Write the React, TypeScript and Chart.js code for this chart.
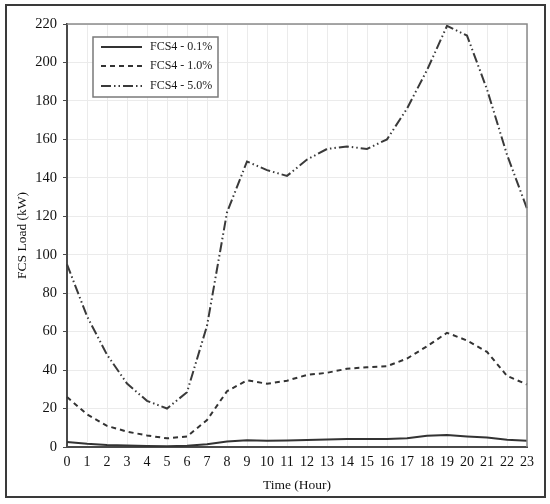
import React, { useEffect, useRef } from "react";
import { Chart, registerables } from "chart.js";

Chart.register(...registerables);

const hours = ["0","1","2","3","4","5","6","7","8","9","10","11","12","13","14","15","16","17","18","19","20","21","22","23"];
const seriesLabels = ["FCS4 - 0.1%", "FCS4 - 1.0%", "FCS4 - 5.0%"];
const load01 = [2.6, 1.7, 1.1, 0.8, 0.5, 0.4, 0.6, 1.4, 2.9, 3.5, 3.3, 3.4, 3.7, 3.9, 4.1, 4.1, 4.2, 4.6, 5.9, 6.2, 5.5, 5.0, 3.8, 3.2];
const load10 = [26, 17, 11, 8, 6, 4.5, 5.5, 14, 29, 34.7, 32.9, 34.5, 37.5, 38.6, 40.7, 41.5, 42, 46, 52.4, 59.4, 55.4, 49.5, 37, 32.5];
const load50 = [95, 68, 48, 33, 24, 20, 28.5, 63, 122, 148.5, 144, 141, 149.5, 155, 156.3, 155, 160, 176, 196, 219, 214, 186, 152, 124];
const yTicks = [0, 20, 40, 60, 80, 100, 120, 140, 160, 180, 200, 220];

const FONT = "'Liberation Serif', 'Times New Roman', serif";

const framePlugin = {
  id: "framePlugin",
  beforeDraw(chart: any) {
    const ctx = chart.ctx;
    ctx.save();
    ctx.fillStyle = "#ffffff";
    ctx.fillRect(0, 0, chart.width, chart.height);
    ctx.restore();
  },
  afterDraw(chart: any) {
    const ctx = chart.ctx;
    const a = chart.chartArea;
    ctx.save();
    // plot border top/right
    ctx.strokeStyle = "#8a8a8a";
    ctx.lineWidth = 1.5;
    ctx.beginPath();
    ctx.moveTo(a.left, a.top);
    ctx.lineTo(a.right, a.top);
    ctx.lineTo(a.right, a.bottom);
    ctx.stroke();
    // outer frame
    ctx.strokeStyle = "#3a3a3a";
    ctx.lineWidth = 2;
    ctx.strokeRect(6, 5, 539, 492);
    // legend
    const bx = 93, by = 37, bw = 125, bh = 60;
    ctx.fillStyle = "#ffffff";
    ctx.fillRect(bx, by, bw, bh);
    ctx.strokeStyle = "#7a7a7a";
    ctx.lineWidth = 1.5;
    ctx.strokeRect(bx, by, bw, bh);
    const rows = [47, 66, 86];
    chart.data.datasets.forEach((ds: any, i: number) => {
      const y = rows[i];
      ctx.strokeStyle = ds.borderColor;
      ctx.lineWidth = ds.borderWidth;
      ctx.setLineDash(ds.borderDash || []);
      ctx.beginPath();
      ctx.moveTo(101, y);
      ctx.lineTo(142, y);
      ctx.stroke();
      ctx.setLineDash([]);
      ctx.fillStyle = "#1a1a1a";
      ctx.font = `12px ${FONT}`;
      ctx.textBaseline = "middle";
      ctx.textAlign = "left";
      ctx.fillText(ds.label, 150, y);
    });
    ctx.restore();
  },
};

export default function App() {
  const ref = useRef<HTMLCanvasElement | null>(null);
  useEffect(() => {
    if (!ref.current) return;
    const chart = new Chart(ref.current, {
      type: "line",
      data: {
        labels: hours,
        datasets: [
          { label: seriesLabels[0], data: load01, borderColor: "#333333", borderWidth: 2, borderDash: [], pointRadius: 0, tension: 0, fill: false },
          { label: seriesLabels[1], data: load10, borderColor: "#333333", borderWidth: 2, borderDash: [5, 4], pointRadius: 0, tension: 0, fill: false },
          { label: seriesLabels[2], data: load50, borderColor: "#3a3a3a", borderWidth: 2, borderDash: [10, 3, 1.5, 3, 1.5, 3], pointRadius: 0, tension: 0, fill: false },
        ],
      },
      options: {
        animation: false,
        responsive: true,
        maintainAspectRatio: false,
        layout: { padding: { left: 0, top: 24, right: 23, bottom: 8 } },
        plugins: { legend: { display: false }, tooltip: { enabled: false } },
        scales: {
          x: {
            type: "category",
            offset: false,
            grid: { color: "#ebebeb", lineWidth: 1, tickLength: 0, offset: false },
            border: { color: "#4a4a4a", width: 2 },
            ticks: { color: "#111", font: { family: FONT, size: 14 }, padding: 7, maxRotation: 0, autoSkip: false },
            title: { display: true, text: "Time (Hour)", color: "#111", font: { family: FONT, size: 13.5 }, padding: { top: 0, bottom: 2 } },
            afterFit: (s: any) => { s.height = 49; },
          },
          y: {
            min: 0,
            max: 220,
            afterBuildTicks: (s: any) => { s.ticks = yTicks.map((v) => ({ value: v })); },
            grid: { color: "#ebebeb", lineWidth: 1, tickLength: 4, tickColor: "#4a4a4a" },
            border: { color: "#4a4a4a", width: 2 },
            ticks: { color: "#111", font: { family: FONT, size: 14.5 }, padding: 6 },
            title: { display: true, text: "FCS Load (kW)", color: "#111", font: { family: FONT, size: 13.5 }, padding: { top: 14, bottom: 0 } },
            afterFit: (s: any) => { s.width = 67; },
          },
        },
      },
      plugins: [framePlugin],
    });
    return () => chart.destroy();
  }, []);
  return (
    <div style={{ position: "fixed", left: 0, top: 0, width: 550, height: 504 }}>
      <canvas ref={ref} />
    </div>
  );
}
